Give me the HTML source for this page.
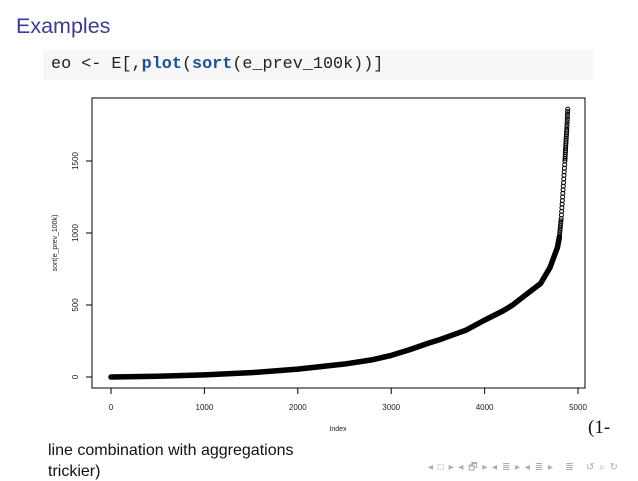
<!DOCTYPE html>
<html><head><meta charset="utf-8"><style>
body{margin:0;width:638px;height:479px;background:#fff;overflow:hidden;position:relative;font-family:"Liberation Sans",sans-serif}
.t{position:absolute;left:16px;top:14px;font-size:21.5px;color:#3b3b9a}
.code{position:absolute;left:43px;top:50px;width:550px;height:30px;background:#f7f7f7}
.code span.c{position:absolute;left:8px;top:5px;font-family:"Liberation Mono",monospace;font-size:16.8px;color:#222;white-space:pre}
.k{color:#1f4f9a;font-weight:bold}
.b1{position:absolute;left:48px;top:442px;font-size:16px;color:#111}
.b2{position:absolute;left:48px;top:463px;font-size:16px;color:#111}
.p{position:absolute;left:588px;top:417px;font-family:"Liberation Serif",serif;font-size:19px;color:#111}
.nav{position:absolute;left:428px;top:460px;font-size:10px;color:#aab;letter-spacing:1px}
</style></head><body>
<div class="t">Examples</div>
<div class="code"><span class="c">eo &lt;- E[,<span class="k">plot</span>(<span class="k">sort</span>(e_prev_100k))]</span></div>
<svg id="ch" width="638" height="479" style="position:absolute;left:0;top:0"></svg>
<div class="p">(1-</div>
<div class="b1">line combination with aggregations</div>
<div class="b2">trickier)</div>
<div class="nav">◂ □ ▸ ◂ 🗗 ▸ ◂ ≣ ▸ ◂ ≣ ▸ &nbsp; ≣ &nbsp; ↺ ⌕ ↻</div>
<script>
const idx=[0,500,1000,1500,2000,2500,2800,3000,3200,3400,3500,3800,4000,4200,4300,4500,4600,4700,4780,4800,4820,4840,4860,4870,4880,4890];
const vals=[0,5,15,30,55,90,120,150,190,235,255,325,395,460,500,600,650,760,900,970,1100,1300,1500,1620,1720,1860];
const xTicks=[0,1000,2000,3000,4000,5000];
const yTicks=[0,500,1000,1500];
const NS="http://www.w3.org/2000/svg",svg=document.getElementById('ch');
const X=v=>111+v*0.0934, Y=v=>377-v*0.144;
function mk(t,a,txt){const e=document.createElementNS(NS,t);for(const k in a)e.setAttribute(k,a[k]);if(txt!=null)e.textContent=txt;svg.appendChild(e);return e;}
const box=mk('rect',{x:92,y:98,width:493,height:290,fill:'none',stroke:'#000','stroke-width':1});

xTicks.forEach(v=>{const l=mk('line',{x1:X(v),x2:X(v),y1:388,y2:394,stroke:'#000'});
const t=mk('text',{x:X(v),y:410,'font-size':8,'text-anchor':'middle',fill:'#222'},v);});
yTicks.forEach(v=>{const l=mk('line',{x1:86,x2:92,y1:Y(v),y2:Y(v),stroke:'#000'});
const t=mk('text',{x:0,y:0,'font-size':8,'text-anchor':'middle',fill:'#222',transform:`translate(78,${Y(v)}) rotate(-90)`},v);});
const xl=mk('text',{x:338,y:431,'font-size':7,'text-anchor':'middle',fill:'#222'},'Index');
const yl=mk('text',{x:0,y:0,'font-size':7,'text-anchor':'middle',fill:'#222',transform:'translate(57,243) rotate(-90)'},'sort(e_prev_100k)');
let d='';idx.forEach((v,i)=>{if(vals[i]<=1000)d+=(d?'L':'M')+X(v)+','+Y(vals[i]);});
const ln=mk('path',{d:d,fill:'none',stroke:'#000','stroke-width':5.5,'stroke-linejoin':'round','stroke-linecap':'round'});

idx.forEach((v,i)=>{const c=mk('circle',{cx:X(v),cy:Y(vals[i]),r:2,fill:'none',stroke:'#000','stroke-width':1});});
for(let i=0;i<idx.length-1;i++){if(vals[i]>=900){const n=8;for(let k=1;k<n;k++){const c=mk('circle',{cx:X(idx[i]+(idx[i+1]-idx[i])*k/n),cy:Y(vals[i]+(vals[i+1]-vals[i])*k/n),r:2,fill:'none',stroke:'#000','stroke-width':1});}}}
</script>
</body></html>
